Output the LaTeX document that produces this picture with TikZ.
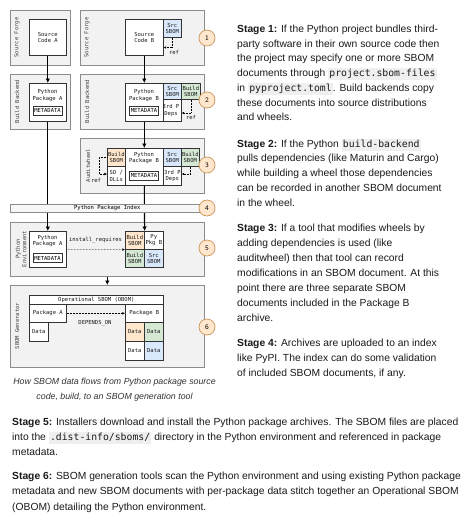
\documentclass[tikz,border=0pt]{standalone}
\usepackage{fontspec}
\setmainfont{Liberation Sans}
\newfontfamily\dmono{DejaVu Sans Mono}
\newfontfamily\codefont{DejaVu Sans Mono}[Scale=0.95]
\usetikzlibrary{arrows.meta}
\definecolor{panelfill}{HTML}{F2F2F2}
\definecolor{paneldraw}{HTML}{8C8C8C}
\definecolor{bluefill}{HTML}{DAE8FC}
\definecolor{greenfill}{HTML}{D5E8D4}
\definecolor{orangefill}{HTML}{FFE6CC}
\definecolor{circdraw}{HTML}{C8965A}
\definecolor{codebg}{HTML}{EFEFEF}
\definecolor{txt}{HTML}{1A1A1A}
\definecolor{captxt}{HTML}{333333}
\newcommand\dfont{\dmono\fontsize{5.5}{6.5}\selectfont}
\newcommand\code[1]{{\setlength\fboxsep{1.2pt}\colorbox{codebg}{\codefont\vphantom{Ag}#1}}}
\newcommand\rbox[7]{\node[#2, anchor=north west, minimum width=#5pt, minimum height=#6pt] (#1) at (#3,#4) {#7};}
\newcommand\tline[3]{\node[textline] (#1) at (#2) {#3};}
\tikzset{
 panel/.style={draw=paneldraw, fill=panelfill, line width=0.6pt, inner sep=0pt},
 cell/.style={draw=black!80, fill=white, line width=0.6pt, inner sep=0pt, align=center, font=\dfont, text=black!90},
 bcell/.style={cell, fill=bluefill},
 gcell/.style={cell, fill=greenfill},
 ocell/.style={cell, fill=orangefill},
 metabox/.style={draw=black!80, fill=white, line width=0.6pt, inner sep=0pt, minimum width=29pt, minimum height=9pt, font=\dfont},
 dtext/.style={inner sep=0pt, align=center, font=\dfont, text=black!90},
 sidelabel/.style={dtext, rotate=90, text=black!75},
 mainarrow/.style={line width=1.1pt, -{Latex[length=4.5pt,width=4.5pt]}},
 refarrow/.style={line width=0.5pt, densely dotted, -{Latex[length=2.6pt,width=2.6pt]}},
 stagecirc/.style={circle, draw=circdraw, fill=orangefill, line width=0.7pt, minimum size=16pt, inner sep=0pt, font=\sffamily\fontsize{7}{7}\selectfont},
 textline/.style={anchor=base west, inner sep=0pt, font=\fontsize{10.3}{12}\selectfont, text=txt},
 captionline/.style={anchor=base, inner sep=0pt, font=\itshape\fontsize{8.8}{10}\selectfont, text=captxt},
}
\begin{document}
\begin{tikzpicture}[x=1pt,y=-1pt]
\fill[white] (0,0) rectangle (474,520);
\useasboundingbox (0,0) rectangle (474,520);

% ---------- panels ----------
\rbox{sfA}{panel}{10}{10}{60}{55}{}
\rbox{sfB}{panel}{80}{10}{124}{55}{}
\rbox{bbA}{panel}{10}{74}{60}{55}{}
\rbox{bbB}{panel}{80}{74}{124}{55}{}
\rbox{aw}{panel}{80}{138}{124}{55}{}
\rbox{env}{panel}{10}{222}{194}{54}{}
\rbox{gen}{panel}{10}{285}{194}{82}{}

\node[sidelabel] (lsfA) at (17,37.5) {Source Forge};
\node[sidelabel] (lsfB) at (87,37.5) {Source Forge};
\node[sidelabel] (lbbA) at (17,101.5) {Build Backend};
\node[sidelabel] (lbbB) at (87,101.5) {Build Backend};
\node[sidelabel] (law) at (88,165.5) {Auditwheel};
\node[sidelabel] (lenv) at (21,249) {Python\\Environment};
\node[sidelabel] (lgen) at (17,326) {SBOM Generator};

% ---------- stage 1 ----------
\rbox{scA}{cell}{29}{19}{37}{36}{Source\\Code A}
\rbox{scB}{cell}{125}{19}{38}{36}{Source\\Code B}
\rbox{src1}{bcell}{163}{19}{18}{18}{Src\\SBOM}
\coordinate (r1) at (0,47.5);
\draw[refarrow] (src1.south) |- (scB.east |- r1);
\node[dtext] (ref1t) at (174,52) {ref};

% ---------- stage 2 ----------
\rbox{pkA1}{cell}{29}{83}{37}{38}{}
\node[dtext] (pkA1t) at (47.5,95.5) {Python\\Package A};
\node[metabox] (mdA1) at (47.5,110.5) {METADATA};
\rbox{pkB1}{cell}{125}{83}{38}{38}{}
\node[dtext] (pkB1t) at (144,95.5) {Python\\Package B};
\node[metabox] (mdB1) at (144,110.5) {METADATA};
\rbox{src2}{bcell}{163}{83}{18}{16}{Src\\SBOM}
\rbox{bd2}{gcell}{181}{83}{19}{16}{Build\\SBOM}
\rbox{dp2}{cell}{163}{99}{18}{22}{}
\node[dtext] (dp2t) at (171,110.5) {3rd P\\Deps};
\coordinate (r2) at (0,113);
\draw[refarrow] (bd2.south) |- (dp2.east |- r2);
\node[dtext] (ref2t) at (191,117) {ref};

% ---------- stage 3 ----------
\rbox{bs3}{ocell}{107}{148}{18}{18}{Build\\SBOM}
\rbox{so3}{cell}{107}{166}{18}{19}{SO /\\DLLs}
\rbox{pkB3}{cell}{125}{148}{38}{37}{}
\node[dtext] (pkB3t) at (144,158) {Python\\Package B};
\node[metabox] (mdB3) at (144,175.5) {METADATA};
\rbox{src3}{bcell}{163}{148}{18}{18}{Src\\SBOM}
\rbox{bd3}{gcell}{181}{148}{18}{18}{Build\\SBOM}
\rbox{dp3}{cell}{163}{166}{18}{19}{3rd P\\Deps}
\coordinate (r3) at (0,174);
\draw[refarrow] (bs3.west) -- ++(-8,0) |- (so3.west |- r3);
\draw[refarrow] (bd3.south) |- (dp3.east |- r3);
\node[dtext] (ref3t) at (96,180) {ref};

% ---------- stage 5 ----------
\rbox{pkA5}{cell}{29}{231}{37}{36}{}
\node[dtext] (pkA5t) at (47.5,241) {Python\\Package A};
\node[metabox] (mdA5) at (47.5,258) {METADATA};
\rbox{g1}{ocell}{125}{231}{19}{18}{Build\\SBOM}
\rbox{g2}{cell}{144}{231}{19}{18}{Py\\Pkg B}
\rbox{g3}{gcell}{125}{249}{19}{18}{Build\\SBOM}
\rbox{g4}{bcell}{144}{249}{19}{18}{Src\\SBOM}
\draw[refarrow] (pkA5.east) -- (g1.south west);
\node[dtext] (instreq) at (95.5,240) {install\_requires};

% ---------- stage 6 ----------
\rbox{obom}{cell}{29}{295}{134}{9}{Operational SBOM (OBOM)}
\rbox{pa}{cell}{29}{304}{37}{18}{Package A}
\rbox{da}{cell}{29}{322}{19}{19}{Data}
\rbox{pb}{cell}{125}{304}{38}{18}{Package B}
\rbox{d1}{ocell}{125}{322}{19}{19}{Data}
\rbox{d2}{gcell}{144}{322}{19}{19}{Data}
\rbox{d3}{cell}{125}{341}{19}{19}{Data}
\rbox{d4}{bcell}{144}{341}{19}{19}{Data}
\draw[refarrow] (pa.east) -- (pb.west);
\node[dtext] (depon) at (95,323.5) {DEPENDS\_ON};

% ---------- main arrows ----------
\draw[mainarrow] (scA.south) -- (pkA1.north);
\draw[mainarrow] (scB.south) -- (pkB1.north);
\draw[mainarrow] (pkB1.south) -- (pkB3.north);
\draw[mainarrow] (pkA1.south) -- (pkA5.north);
\draw[mainarrow] (pkB3.south) -- (g1.north east);
\draw[mainarrow] (env.south) -- (gen.north);

% ---------- package index ----------
\node[draw=paneldraw, fill=panelfill!60!white, line width=0.6pt, inner sep=0pt, anchor=north west, minimum width=194pt, minimum height=8pt, font=\dfont] (ppi) at (10,204) {Python Package Index};

% ---------- stage circles ----------
\node[stagecirc] (c1) at (207,38) {1};
\node[stagecirc] (c2) at (207,100) {2};
\node[stagecirc] (c3) at (207,165) {3};
\node[stagecirc] (c4) at (207,208) {4};
\node[stagecirc] (c5) at (207,248) {5};
\node[stagecirc] (c6) at (207,327) {6};

% ---------- caption ----------
\node[captionline] (cap1) at (114.5,384.5) {How SBOM data flows from Python package source};
\node[captionline] (cap2) at (114.5,399.5) {code, build, to an SBOM generation tool};

% ---------- right text ----------
\tline{s1a}{237,32.5}{\textbf{Stage 1:} If the Python project bundles third-}
\tline{s1b}{237,47.2}{party software in their own source code then}
\tline{s1c}{237,61.6}{the project may specify one or more SBOM}
\tline{s1d}{237,76.5}{documents through \code{project.sbom-files}}
\tline{s1e}{237,91.3}{in \code{pyproject.toml}. Build backends copy}
\tline{s1f}{237,106.2}{these documents into source distributions}
\tline{s1g}{237,120.8}{and wheels.}

\tline{s2a}{237,147.2}{\textbf{Stage 2:} If the Python \code{build-backend}}
\tline{s2b}{237,161.8}{pulls dependencies (like Maturin and Cargo)}
\tline{s2c}{237,176.8}{while building a wheel those dependencies}
\tline{s2d}{237,191.8}{can be recorded in another SBOM document}
\tline{s2e}{237,206.2}{in the wheel.}

\tline{s3a}{237,231.8}{\textbf{Stage 3:} If a tool that modifies wheels by}
\tline{s3b}{237,246.2}{adding dependencies is used (like}
\tline{s3c}{237,261.2}{auditwheel) then that tool can record}
\tline{s3d}{237,276.8}{modifications in an SBOM document. At this}
\tline{s3e}{237,291.5}{point there are three separate SBOM}
\tline{s3f}{237,306.2}{documents included in the Package B}
\tline{s3g}{237,321.8}{archive.}

\tline{s4a}{237,346.2}{\textbf{Stage 4:} Archives are uploaded to an index}
\tline{s4b}{237,361.2}{like PyPI. The index can do some validation}
\tline{s4c}{237,376.2}{of included SBOM documents, if any.}

% ---------- bottom text ----------
\tline{s5a}{12,425.5}{\textbf{Stage 5:} Installers download and install the Python package archives. The SBOM files are placed}
\tline{s5b}{12,440.2}{into the \code{.dist-info/sboms/} directory in the Python environment and referenced in package}
\tline{s5c}{12,455.2}{metadata.}

\tline{s6a}{12,479.5}{\textbf{Stage 6:} SBOM generation tools scan the Python environment and using existing Python package}
\tline{s6b}{12,494.5}{metadata and new SBOM documents with per-package data stitch together an Operational SBOM}
\tline{s6c}{12,510.2}{(OBOM) detailing the Python environment.}
\end{tikzpicture}
\end{document}
